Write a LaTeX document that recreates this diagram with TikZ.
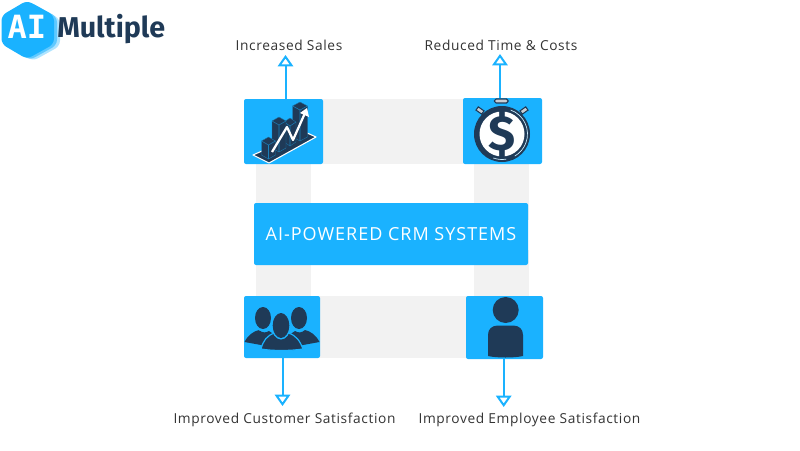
\documentclass[tikz,border=0pt]{standalone}
\usepackage{fontspec}
\usetikzlibrary{arrows.meta}
\setmainfont{Open Sans}
\newfontfamily\labfont[LetterSpace=4.5]{Open Sans}
\newfontfamily\titlefont[LetterSpace=5.5]{Open Sans}
\newfontfamily\logofont{Fira Sans}
\newfontfamily\aifont{DejaVu Sans Mono}
\definecolor{skyb}{HTML}{1AB2FF}
\definecolor{navy}{HTML}{1F3A57}
\definecolor{panel}{HTML}{F2F2F2}
\definecolor{txt}{HTML}{333333}
\tikzset{
  bluebox/.style={fill=skyb,rounded corners=1.5pt,inner sep=0pt},
  lab/.style={font=\labfont\fontsize{10.3pt}{12pt}\selectfont,text=txt,inner sep=0pt,anchor=base},
  conn/.style={draw=skyb,line width=1.5pt,-{Triangle[open,length=8.5pt,width=11.5pt,line width=1.5pt]}},
  grayp/.style={fill=panel,draw=none},
}
\newcommand{\isobar}[4]{% cx, top y, bottom y, half width
  \fill[navy,draw=skyb!50!navy,line width=.3pt,line join=round]
   (#1-#4,#2+4) -- (#1,#2) -- (#1+#4,#2+4) -- (#1+#4,#3-4) -- (#1,#3) -- (#1-#4,#3-4) -- cycle;
  \draw[skyb!60!navy,line width=.4pt] (#1-#4,#2+4) -- (#1,#2+8) -- (#1+#4,#2+4) (#1,#2+8) -- (#1,#3);
}
\begin{document}
\begin{tikzpicture}[x=0.75pt,y=-0.75pt]
\useasboundingbox (0,0) rectangle (800,450);
% panels
\fill[grayp] (300,99) rectangle (480,164);
\fill[grayp] (256,150) rectangle (311,220);
\fill[grayp] (474,150) rectangle (529,220);
\fill[grayp] (256,250) rectangle (311,310);
\fill[grayp] (474,250) rectangle (529,310);
\fill[grayp] (300,296) rectangle (480,358);
% boxes
\node[bluebox,minimum width=79*0.75pt,minimum height=65*0.75pt] (tl) at (283.5,131.5) {};
\node[bluebox,minimum width=79*0.75pt,minimum height=66*0.75pt] (tr) at (502.5,131) {};
\node[bluebox,minimum width=274*0.75pt,minimum height=62*0.75pt,text=white,font=\titlefont\fontsize{13.5pt}{16pt}\selectfont] (mid) at (391,234) {AI-POWERED CRM SYSTEMS};
\node[bluebox,minimum width=76*0.75pt,minimum height=62*0.75pt] (bl) at (282,327) {};
\node[bluebox,minimum width=77*0.75pt,minimum height=63*0.75pt] (br) at (504.5,327.5) {};
% labels
\node[lab] (l1) at (289,50) {Increased Sales};
\node[lab] (l2) at (501,50) {Reduced Time \& Costs};
\node[lab] (l3) at (284.5,423) {Improved Customer Satisfaction};
\node[lab] (l4) at (529.5,423) {Improved Employee Satisfaction};
% connector ends
\coordinate (e1) at (285.5,55);
\coordinate (e2) at (500,54);
\coordinate (e3) at (282.5,406);
\coordinate (e4) at (503.7,407);
\draw[conn] (tl.north -| e1) -- (e1);
\draw[conn] (tr.north -| e2) -- (e2);
\draw[conn] (bl.south -| e3) -- (e3);
\draw[conn] (br.south -| e4) -- (e4);
% chart icon
\fill[navy,draw=white,line width=.8pt,line join=round] (253,155) -- (305,132) -- (316,137) -- (269,163) -- cycle;
\isobar{300}{102}{141}{7.5}
\isobar{290}{118}{146}{6}
\isobar{279}{117}{152}{7}
\isobar{268.5}{137}{159}{7}
\draw[white,line width=1.7pt,line join=round] (272,152) -- (287,127) -- (293,140) -- (305,113);
\fill[white] (307,108) -- (309,117) -- (300,113) -- cycle;
% stopwatch icon
\draw[navy,fill=white!75!navy,line width=.8pt,rotate around={-35:(480,110.5)}] (476.5,108.5) rectangle (483.5,112.5);
\draw[navy,fill=white!75!navy,line width=.8pt,rotate around={35:(524,110.5)}] (520.5,108.5) rectangle (527.5,112.5);
\draw[navy,fill=white!75!navy,line width=.9pt,rounded corners=1.2pt] (494.5,99) rectangle (508,103);
\fill[navy] (502,134) circle (28*0.75pt);
\draw[white!80!skyb,line width=.5pt] (502,134) ++(70:25.5*0.75pt) arc (70:-60:25.5*0.75pt);
\draw[white!80!skyb,line width=.5pt] (502,134) ++(-80:25.5*0.75pt) arc (-80:-110:25.5*0.75pt);
\fill[white] (502,134) circle (22.5*0.75pt);
\node[inner sep=0pt,text=navy,font=\logofont\bfseries\fontsize{37pt}{38pt}\selectfont] (dol) at (502,134) {\$};
% people icon
\fill[navy] (244.5,342) .. controls (248,335) and (254,331) .. (259,330) .. controls (262,333) and (266,333) .. (269,331) .. controls (274,333) and (278,340) .. (276,346) -- (261,345) -- cycle;
\fill[navy] (319.5,342) .. controls (316,335) and (310,331) .. (305,330) .. controls (302,333) and (298,333) .. (295,331) .. controls (290,333) and (286,340) .. (288,346) -- (303,345) -- cycle;
\fill[skyb] (263,319) ellipse (9.5*0.75pt and 12.5*0.75pt);
\fill[skyb] (299,319) ellipse (9.5*0.75pt and 12.5*0.75pt);
\fill[navy] (263,318) ellipse (8*0.75pt and 11*0.75pt);
\fill[navy] (299,318) ellipse (8*0.75pt and 11*0.75pt);
\fill[navy,draw=skyb,line width=.9pt] (261,349) .. controls (263,341) and (267,335) .. (275,333) .. controls (277,340) and (285,340) .. (288,333) .. controls (296,335) and (300,341) .. (303,349) .. controls (290,351) and (272,351) .. (261,349) -- cycle;
\fill[skyb] (281,326) ellipse (9.5*0.75pt and 13.5*0.75pt);
\fill[navy] (281,325.5) ellipse (8.3*0.75pt and 12.5*0.75pt);
% person icon
\fill[navy] (505.7,310) circle (13*0.75pt);
\fill[navy] (488,356) -- (488,335) .. controls (488,329) and (492,325.5) .. (498,325.5) -- (513,325.5) .. controls (519,325.5) and (523,329) .. (523,335) -- (523,356) .. controls (515,358) and (496,358) .. (488,356) -- cycle;
% logo
\fill[skyb!35,rounded corners=4pt] (33,4) -- (60,19) -- (60,46) -- (33,61) -- (8,46) -- (8,19) -- cycle;
\fill[skyb!70,rounded corners=4pt] (30,2) -- (57,17) -- (57,45) -- (30,60) -- (5,45) -- (5,17) -- cycle;
\fill[skyb,rounded corners=4pt] (27,0.5) -- (54,15.5) -- (54,44) -- (27,59) -- (1.5,44) -- (1.5,15.5) -- cycle;
\node[inner sep=0pt,text=white,font=\aifont\bfseries\fontsize{24pt}{26pt}\selectfont] (ai) at (27,27) {AI};
\node[inner sep=0pt,anchor=base west,text=navy,font=\logofont\bfseries\fontsize{21.5pt}{24pt}\selectfont] (mult) at (57,37) {Multiple};
\end{tikzpicture}
\end{document}
